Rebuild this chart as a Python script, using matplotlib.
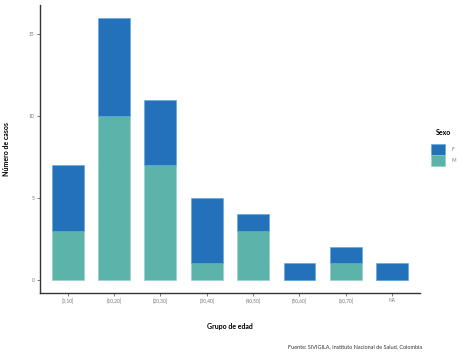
import numpy as np
import matplotlib.pyplot as plt
from matplotlib.patches import Patch

plt.rcParams['font.family'] = ['Lato', 'DejaVu Sans']

#%%

grupos = ["[0,10]", "(10,20]", "(20,30]", "(30,40]", "(40,50]", "(50,60]", "(60,70]", "NA"]
casos_m = np.array([3, 10, 7, 1, 3, 0, 1, 0])
casos_f = np.array([4, 6, 4, 4, 1, 1, 1, 1])
y_ticks = [0, 5, 10, 15]

col_f = "#2372b9"
col_m = "#5bb3aa"

#%%

fig = plt.figure(figsize=(4.74, 3.55), dpi=100)
ax = fig.add_axes([0.0844, 0.175, 0.8016, 0.811])

x = np.arange(len(grupos))
ax.bar(x, casos_m, width=0.69, color=col_m, edgecolor="#8fd0c8", linewidth=0.4)
ax.bar(x, casos_f, bottom=casos_m, width=0.69, color=col_f, edgecolor="#5aa5e0", linewidth=0.4)

ax.set_xlim(-0.6, 7.6)
ax.set_ylim(-0.8, 16.8)
ax.set_xticks(x)
ax.set_xticklabels(grupos, fontsize=3.5, color="#777777")
ax.set_yticks(y_ticks)
ax.set_yticklabels([str(t) for t in y_ticks], fontsize=3.5, color="#777777")
ax.tick_params(length=2, width=0.5, color="#444444", pad=2)

for s in ["top", "right"]:
    ax.spines[s].set_visible(False)
for s in ["left", "bottom"]:
    ax.spines[s].set_linewidth(1.0)
    ax.spines[s].set_color("#333333")

ax.set_xlabel("Grupo de edad", fontsize=5, fontweight="bold")
ax.set_ylabel("Número de casos", fontsize=5, fontweight="bold")
ax.xaxis.set_label_coords(0.5, -0.104)
ax.yaxis.set_label_coords(-0.079, 0.5)

handles = [Patch(facecolor=col_f, edgecolor="#5aa5e0", linewidth=0.4, label="F"),
           Patch(facecolor=col_m, edgecolor="#8fd0c8", linewidth=0.4, label="M")]
leg = fig.legend(handles=handles, title="Sexo", loc="center left",
                 bbox_to_anchor=(0.905, 0.585), frameon=False, fontsize=3.5,
                 title_fontsize=5, handlelength=3.0, handleheight=3.0,
                 labelspacing=0.1, handletextpad=1.2, borderaxespad=0)
leg.get_title().set_fontweight("bold")
leg._legend_box.sep = 6
for t in leg.get_texts():
    t.set_color("#777777")

fig.text(0.89, 0.0225, "Fuente: SIVIGILA, Instituto Nacional de Salud, Colombia",
         fontsize=4, ha="right", va="center", color="#333333")

plt.savefig("out.png", dpi=100)
